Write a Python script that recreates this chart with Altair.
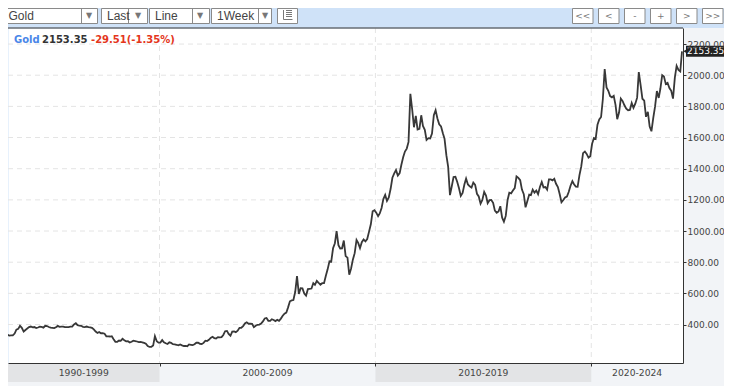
import altair as alt
import pandas as pd

# ---------------- data (monthly gold prices, USD/oz) ----------------
y1992 = [344, 335, 334]  # Oct-Dec
y1993 = [329, 330, 330, 342, 367, 372, 392, 379, 355, 365, 374, 383]
y1994 = [387, 382, 384, 377, 381, 386, 385, 380, 392, 390, 384, 380]
y1995 = [379, 377, 382, 391, 385, 387, 386, 383, 383, 383, 386, 387]
y1996 = [400, 408, 396, 393, 392, 385, 383, 387, 383, 381, 378, 369]
y1997 = [355, 346, 352, 344, 344, 341, 324, 324, 323, 325, 306, 289]
y1998 = [289, 297, 295, 308, 299, 292, 293, 284, 289, 296, 294, 291]
y1999 = [287, 288, 286, 282, 277, 262, 256, 257, 265, 325, 293, 284]
y2000 = [284, 300, 286, 280, 275, 286, 282, 274, 273, 270, 266, 272]
y2001 = [266, 262, 263, 261, 272, 270, 268, 273, 283, 283, 276, 275]
y2002 = [282, 296, 294, 302, 314, 321, 313, 310, 319, 317, 319, 333]
y2003 = [357, 359, 340, 328, 355, 356, 351, 360, 379, 379, 389, 407]
y2004 = [414, 405, 406, 404, 383, 392, 398, 400, 406, 420, 439, 442]
y2005 = [424, 423, 434, 429, 422, 430, 424, 438, 456, 470, 476, 510]
y2006 = [549, 555, 557, 610, 710, 596, 633, 632, 598, 585, 627, 629]
y2007 = [631, 665, 655, 680, 668, 655, 665, 665, 713, 754, 806, 803]
y2008 = [889, 922, 1000, 909, 888, 889, 939, 839, 829, 720, 760, 816]
y2009 = [858, 943, 924, 890, 928, 946, 934, 949, 996, 1043, 1127, 1134]
y2010 = [1118, 1095, 1113, 1148, 1205, 1232, 1193, 1215, 1271, 1342, 1370, 1391]
y2011 = [1356, 1372, 1424, 1474, 1510, 1529, 1572, 1880, 1780, 1666, 1739, 1652]
y2012 = [1656, 1743, 1674, 1650, 1585, 1596, 1594, 1626, 1744, 1775, 1722, 1685]
y2013 = [1671, 1627, 1593, 1487, 1414, 1230, 1286, 1347, 1349, 1316, 1275, 1225]
y2014 = [1244, 1300, 1336, 1299, 1287, 1279, 1311, 1296, 1239, 1222, 1176, 1200]
y2015 = [1251, 1227, 1179, 1198, 1199, 1181, 1131, 1117, 1125, 1159, 1086, 1060]
y2016 = [1097, 1199, 1246, 1242, 1260, 1276, 1350, 1341, 1326, 1266, 1236, 1152]
y2017 = [1192, 1234, 1231, 1266, 1246, 1260, 1237, 1283, 1315, 1280, 1282, 1265]
y2018 = [1331, 1331, 1325, 1335, 1303, 1282, 1238, 1185, 1199, 1215, 1221, 1250]
y2019 = [1291, 1320, 1300, 1285, 1284, 1359, 1413, 1500, 1510, 1495, 1471, 1480]
y2020 = [1560, 1597, 1591, 1683, 1716, 1732, 1847, 2040, 1922, 1900, 1866, 1858]
y2021 = [1867, 1808, 1718, 1760, 1850, 1834, 1807, 1785, 1775, 1777, 1821, 1790]
y2022 = [1817, 1856, 2020, 1937, 1849, 1837, 1733, 1765, 1670, 1640, 1726, 1798]
y2023 = [1898, 1854, 1913, 2000, 1992, 1943, 1951, 1918, 1900, 1850, 1985, 2060]
y2024 = [2034, 2024, 2153.35]  # Jan-Mar

yearly = [(1992, 10, y1992), (1993, 1, y1993), (1994, 1, y1994), (1995, 1, y1995),
          (1996, 1, y1996), (1997, 1, y1997), (1998, 1, y1998), (1999, 1, y1999),
          (2000, 1, y2000), (2001, 1, y2001), (2002, 1, y2002), (2003, 1, y2003),
          (2004, 1, y2004), (2005, 1, y2005), (2006, 1, y2006), (2007, 1, y2007),
          (2008, 1, y2008), (2009, 1, y2009), (2010, 1, y2010), (2011, 1, y2011),
          (2012, 1, y2012), (2013, 1, y2013), (2014, 1, y2014), (2015, 1, y2015),
          (2016, 1, y2016), (2017, 1, y2017), (2018, 1, y2018), (2019, 1, y2019),
          (2020, 1, y2020), (2021, 1, y2021), (2022, 1, y2022), (2023, 1, y2023),
          (2024, 1, y2024)]

last_price = 2153.35
change = -29.51
change_pct = -1.35

y_ticks = [400, 600, 800, 1000, 1200, 1400, 1600, 1800, 2000, 2200]
band_labels = ["1990-1999", "2000-2009", "2010-2019", "2020-2024"]
band_starts = ["1990-01-01", "2000-01-01", "2010-01-01", "2020-01-01"]
band_ends = ["2000-01-01", "2010-01-01", "2020-01-01", "2024-04-01"]
band_shaded = [True, False, True, False]
decade_lines = ["2000-01-01", "2010-01-01", "2020-01-01"]
menu_labels = ["Gold", "Last", "Line", "1Week"]
nav_labels = ["<<", "<", "-", "+", ">", ">>"]

# ---------------- tables ----------------
rows = []
for yr, m0, vals in yearly:
    for i, v in enumerate(vals):
        rows.append({"date": f"{yr}-{m0 + i:02d}-15", "price": v})
price_df = pd.DataFrame(rows)

dom_start = pd.Timestamp("1992-12-24")
dom_end = pd.Timestamp("2024-04-01")
brows = []
for lab, s, e, sh in zip(band_labels, band_starts, band_ends, band_shaded):
    s2 = max(pd.Timestamp(s), dom_start)
    e2 = min(pd.Timestamp(e), dom_end)
    mid = s2 + (e2 - s2) / 2
    brows.append({"label": lab, "start": s2.strftime("%Y-%m-%d"),
                  "end": e2.strftime("%Y-%m-%d"), "mid": mid.strftime("%Y-%m-%d"),
                  "shaded": sh})
band_df = pd.DataFrame(brows)
shade_df = band_df[band_df["shaded"]]
ygrid_df = pd.DataFrame({"v": y_ticks})
xgrid_df = pd.DataFrame({"d": decade_lines})
last_df = pd.DataFrame({"price": [last_price], "label": [f"{last_price:.2f}"]})
dummy = pd.DataFrame({"k": [0]})

# ---------------- styling ----------------
W, H = 675, 335
TOTAL_W, TOTAL_H = 716, 378
FONT = "DejaVu Sans"
DARK = "#333333"
GRID = "#e4e4e4"
PANEL = "#f2f4f7"
BAND = "#e3e4e6"
TOOLBAR = "#cfe2f8"

x_scale = alt.Scale(type="utc", domain=[alt.DateTime(year=1992, month=12, date=24, utc=True),
                                        alt.DateTime(year=2024, month=4, date=1, utc=True)])
y_scale = alt.Scale(domain=[153, 2303], nice=False, zero=False)

X_AX = alt.Axis(values=[alt.DateTime(year=2000, month=1, date=1, utc=True),
                        alt.DateTime(year=2010, month=1, date=1, utc=True),
                        alt.DateTime(year=2020, month=1, date=1, utc=True)],
                labels=False, grid=False, ticks=True, tickSize=3, tickColor=DARK,
                domainColor=DARK, title=None, zindex=1)
Y_AX = alt.Axis(orient="right", values=y_ticks, format=".2f", labelFont=FONT,
                labelFontSize=9, labelColor="#444444", labelPadding=1, tickSize=3,
                tickColor=DARK, domainColor=DARK, grid=False, title=None, zindex=1)


def rect(x0, x1, y0, y1, fill, stroke=None):
    if stroke:
        m = alt.Chart(dummy).mark_rect(fill=fill, stroke=stroke, strokeWidth=1)
    else:
        m = alt.Chart(dummy).mark_rect(fill=fill)
    return m.encode(x=alt.value(x0), x2=alt.value(x1), y=alt.value(y0), y2=alt.value(y1))


def rule(x0, x1, y0, y1, color, width=1):
    return alt.Chart(dummy).mark_rule(color=color, strokeWidth=width).encode(
        x=alt.value(x0), x2=alt.value(x1), y=alt.value(y0), y2=alt.value(y1))


def text(x, y, s, **kw):
    return alt.Chart(dummy).mark_text(text=s, baseline="middle", **kw).encode(
        x=alt.value(x), y=alt.value(y))


layers = []
# panels
layers.append(rect(W, TOTAL_W, 0, 360, PANEL))
layers.append(rect(-6, W, H, 360, PANEL))
# decade bands
layers.append(alt.Chart(shade_df).mark_rect(color=BAND).encode(
    x=alt.X("start:T", scale=x_scale, axis=X_AX), x2="end:T",
    y=alt.value(335.5), y2=alt.value(354)))
layers.append(alt.Chart(band_df).mark_text(font=FONT, fontSize=9.2, color="#444444",
                                           baseline="middle").encode(
    x=alt.X("mid:T", scale=x_scale, axis=X_AX), y=alt.value(345), text="label:N"))
# gridlines
layers.append(alt.Chart(ygrid_df).mark_rule(color=GRID, strokeDash=[5, 4]).encode(
    y=alt.Y("v:Q", scale=y_scale, axis=Y_AX), x=alt.value(0), x2=alt.value(W)))
layers.append(alt.Chart(xgrid_df).mark_rule(color=GRID, strokeDash=[5, 4]).encode(
    x=alt.X("d:T", scale=x_scale, axis=X_AX), y=alt.value(0), y2=alt.value(H)))
# price line
layers.append(alt.Chart(price_df).mark_line(color="#383838", strokeWidth=1.8, clip=True).encode(
    x=alt.X("date:T", scale=x_scale, axis=X_AX),
    y=alt.Y("price:Q", scale=y_scale, axis=Y_AX)))
# top border
layers.append(rule(-6, W, 0, 0, DARK))
# last-price tag
layers.append(alt.Chart(last_df).mark_rect(color="#222222", yOffset=-5.5, y2Offset=5.5).encode(
    x=alt.value(W + 3), x2=alt.value(TOTAL_W),
    y=alt.Y("price:Q", scale=y_scale, axis=Y_AX), y2="price:Q"))
layers.append(alt.Chart(last_df).mark_point(shape="triangle-left", filled=True, size=24,
                                            color="#222222", opacity=1).encode(
    x=alt.value(W + 2.5), y=alt.Y("price:Q", scale=y_scale, axis=Y_AX)))
layers.append(alt.Chart(last_df).mark_text(font=FONT, fontSize=9, color="white",
                                           align="left", baseline="middle").encode(
    x=alt.value(W + 4), y=alt.Y("price:Q", scale=y_scale, axis=Y_AX), text="label:N"))
# header text
layers.append(text(6, 12, menu_labels[0], font=FONT, fontSize=10, fontWeight="bold",
                   color="#4a86e8", align="left"))
layers.append(text(34, 12, f"{last_price:.2f}", font=FONT, fontSize=10, fontWeight="bold",
                   color=DARK, align="left"))
layers.append(text(83, 12, f"{change:.2f}({change_pct:.2f}%)", font=FONT, fontSize=10,
                   fontWeight="bold", color="#e4361c", align="left"))

# toolbar (above the plot, in the top padding)
TY0, TY1, TYC = -19.5, -4.5, -12
menus = [(-4.5, 89.5, 73.5, 81, 0.5), (93.5, 139.5, 120.5, 130, 99),
         (141.5, 201.5, 184.5, 192, 147), (203.5, 263.5, 250.5, 257, 209)]
for lab, (x0, x1, sep, arr, tx) in zip(menu_labels, menus):
    layers.append(rect(x0, x1, TY0, TY1, "white", "#8a8a8a"))
    layers.append(rule(sep, sep, TY0, TY1, "#8a8a8a"))
    layers.append(text(arr, TYC, "▼", font=FONT, fontSize=8, color="#777777", align="center"))
    layers.append(text(tx, TYC, lab, font="Liberation Sans", fontSize=12, color="#444444",
                       align="left"))
# icon button
layers.append(rect(269.5, 289.5, TY0, TY1, "white", "#8a8a8a"))
layers.append(rule(275.5, 275.5, -18, -8.5, "#777777"))
layers.append(rule(275.5, 284.5, -8.5, -8.5, "#777777"))
for yy in [-17.5, -15.5, -13.5, -11.5]:
    layers.append(rule(278, 284, yy, yy, "#777777"))
# navigation buttons
navs = [564.5, 590.5, 616.5, 642.5, 668.5, 694.5]
for lab, x0 in zip(nav_labels, navs):
    layers.append(rect(x0, x0 + 20.5, TY0, TY1, "white", "#8a8a8a"))
    layers.append(text(x0 + 10.25, TYC, lab, font=FONT, fontSize=9, color="#777777",
                       align="center"))

chart = alt.layer(*layers).properties(
    width=W, height=H,
    padding={"left": 0, "top": 20, "right": TOTAL_W - W, "bottom": TOTAL_H - 20 - H},
    autosize=alt.AutoSizeParams(type="none"),
).configure(background=TOOLBAR).configure_view(fill="white", stroke="transparent")

chart.save("out.html", embed_options={"renderer": "svg", "actions": False})
